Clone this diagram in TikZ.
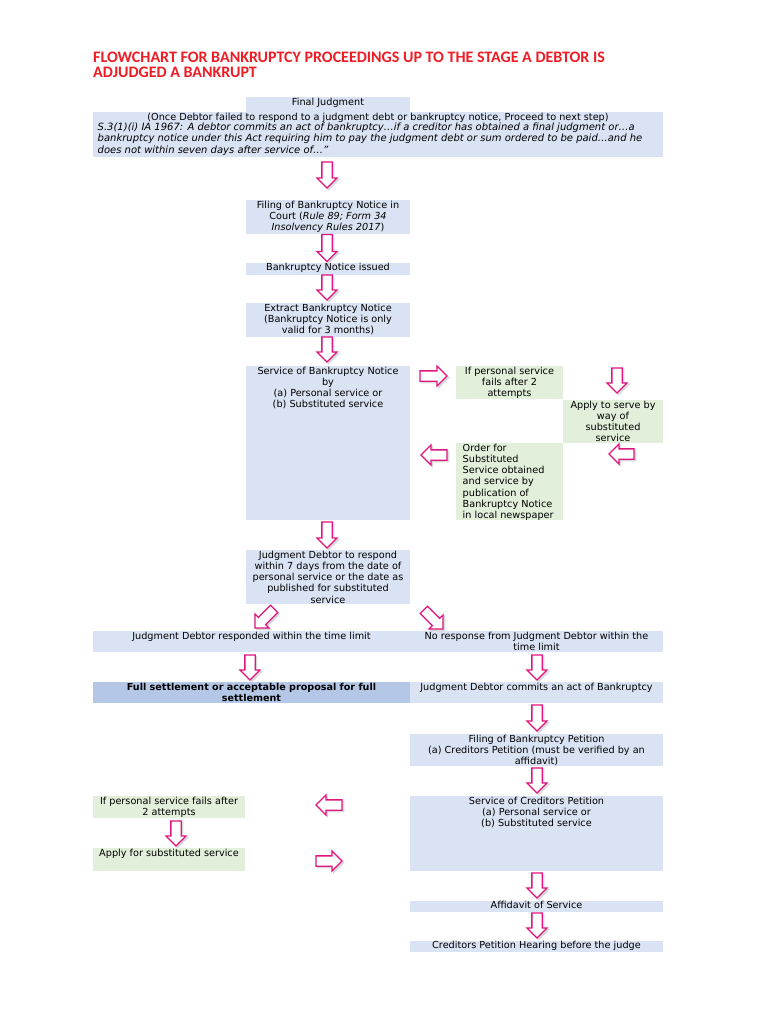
\documentclass[tikz,border=0pt]{standalone}
\usepackage{fontspec}
\setmainfont{DejaVu Sans}
\newfontfamily\titlefont{Carlito}
\usetikzlibrary{shapes.arrows,calc}
\definecolor{boxblue}{HTML}{DAE3F3}
\definecolor{boxgreen}{HTML}{E2EFDA}
\definecolor{boxdark}{HTML}{B4C7E7}
\definecolor{arrowpink}{HTML}{E0157F}
\definecolor{titlered}{HTML}{EE1C25}
\tikzset{
  boxbase/.style={draw=none, anchor=north west, inner sep=0pt, outer sep=0pt},
  txt/.style={font=\fontsize{9.7}{11.3}\selectfont, inner sep=0.5pt, align=center, anchor=north},
  barrow/.style={single arrow, draw=arrowpink, fill=white, line width=1.3pt,
    minimum width=19pt, single arrow head extend=4.8pt, inner xsep=0pt, inner ysep=4.5pt,
    single arrow tip angle=90, anchor=tip, outer sep=0pt},
  barrowsh/.style={barrow, draw=gray!30, fill=gray!30},
}
% box: name, x, y, w, h, fill
\newcommand\bx[6]{\node[boxbase, fill=#6, minimum width=#4pt, minimum height=#5pt] (#1) at (#2,#3) {};}
% arrow: [length] name, tip point, angle
\newcommand\barr[4][25]{%
  \node[barrowsh, minimum height=#1pt, rotate=#4] (#2-sh) at ($(#3)+(1.6,1.6)$) {};
  \node[barrow, minimum height=#1pt, rotate=#4] (#2) at (#3) {};}
\begin{document}
\begin{tikzpicture}[x=1pt, y=-1pt]
\path[use as bounding box, fill=white] (0,0) rectangle (768,1024);

% title
\node[anchor=base west, inner sep=0pt, text=titlered, font=\titlefont\bfseries\fontsize{16}{18}\selectfont] (title1) at (93,63) {FLOWCHART FOR BANKRUPTCY PROCEEDINGS UP TO THE STAGE A DEBTOR IS};
\node[anchor=base west, inner sep=0pt, text=titlered, font=\titlefont\bfseries\fontsize{16}{18}\selectfont] (title2) at (93,78) {ADJUDGED A BANKRUPT};

% boxes
\bx{fj}{246}{97}{164}{15.5}{boxblue}
\bx{big}{93}{112}{570}{45}{boxblue}
\bx{filing}{246}{200}{164}{34}{boxblue}
\bx{issued}{246}{263}{164}{12}{boxblue}
\bx{extract}{246}{303}{164}{34}{boxblue}
\bx{svc}{246}{366}{164}{154}{boxblue}
\bx{g1}{456}{366}{107}{33}{boxgreen}
\bx{g2}{563}{400}{100}{43}{boxgreen}
\bx{g3}{456}{443}{107}{77}{boxgreen}
\bx{resp}{246}{550}{164}{54}{boxblue}
\bx{yes}{93}{631}{317}{21}{boxblue}
\bx{no}{410}{631}{253}{21}{boxblue}
\bx{full}{93}{682}{317}{21}{boxdark}
\bx{commits}{410}{682}{253}{21}{boxblue}
\bx{petition}{410}{734}{253}{32}{boxblue}
\bx{csvc}{410}{796}{253}{75}{boxblue}
\bx{g4}{93}{796}{152}{22}{boxgreen}
\bx{g5}{93}{848}{152}{23}{boxgreen}
\bx{aff}{410}{901}{253}{11}{boxblue}
\bx{hear}{410}{941}{253}{11}{boxblue}

% texts
\node[txt] (fj-t) at ($(fj.north)+(0,0.5)$) {Final Judgment};
\node[txt] (big-t) at (big.north) {(Once Debtor failed to respond to a judgment debt or bankruptcy notice, Proceed to next step)};
\node[txt, anchor=north west, align=left, font=\fontsize{10}{11.4}\selectfont\itshape] (big-i) at ($(big-t.south -| big.west)+(4,-0.5)$)
  {S.3(1)(i) IA 1967: A debtor commits an act of bankruptcy…if a creditor has obtained a final judgment or…a\\
   bankruptcy notice under this Act requiring him to pay the judgment debt or sum ordered to be paid…and he\\
   does not within seven days after service of…”};
\node[txt] (filing-t) at (filing.north) {Filing of Bankruptcy Notice in\\Court (\textit{Rule 89; Form 34}\\\textit{Insolvency Rules 2017})};
\node[txt] (issued-t) at ($(issued.north)+(0,-1)$) {Bankruptcy Notice issued};
\node[txt] (extract-t) at (extract.north) {Extract Bankruptcy Notice\\(Bankruptcy Notice is only\\valid for 3 months)};
\node[txt] (svc-t) at (svc.north) {Service of Bankruptcy Notice\\by\\(a) Personal service or\\(b) Substituted service};
\node[txt] (g1-t) at (g1.north) {If personal service\\fails after 2\\attempts};
\node[txt] (g2-t) at (g2.north) {Apply to serve by\\way of\\substituted\\service};
\node[txt, anchor=north west, align=left] (g3-t) at ($(g3.north west)+(6,0)$) {Order for\\Substituted\\Service obtained\\and service by\\publication of\\Bankruptcy Notice\\in local newspaper};
\node[txt] (resp-t) at (resp.north) {Judgment Debtor to respond\\within 7 days from the date of\\personal service or the date as\\published for substituted\\service};
\node[txt] (yes-t) at (yes.north) {Judgment Debtor responded within the time limit};
\node[txt] (no-t) at (no.north) {No response from Judgment Debtor within the\\time limit};
\node[txt, font=\fontsize{9.6}{11.3}\selectfont\bfseries] (full-t) at (full.north) {Full settlement or acceptable proposal for full\\settlement};
\node[txt] (commits-t) at (commits.north) {Judgment Debtor commits an act of Bankruptcy};
\node[txt] (petition-t) at (petition.north) {Filing of Bankruptcy Petition\\(a) Creditors Petition (must be verified by an\\affidavit)};
\node[txt] (csvc-t) at (csvc.north) {Service of Creditors Petition\\(a) Personal service or\\(b) Substituted service};
\node[txt] (g4-t) at (g4.north) {If personal service fails after\\2 attempts};
\node[txt] (g5-t) at (g5.north) {Apply for substituted service};
\node[txt] (aff-t) at ($(aff.north)+(0,-1)$) {Affidavit of Service};
\node[txt] (hear-t) at ($(hear.north)+(0,-1)$) {Creditors Petition Hearing before the judge};

% block arrows (placed by their tips)
\barr[26]{a1}{327,188}{-90}
\barr[27]{a2}{327,261.5}{-90}
\barr{a3}{327,300}{-90}
\barr{a4}{327,362}{-90}
\barr[27]{a5}{447,376}{0}
\barr{a6}{617,393}{-90}
\barr[25]{a7}{609,454}{180}
\barr[26]{a8}{421,455}{180}
\barr[26]{a9}{327,548}{-90}
\barr[27]{a10}{255,628}{-135}
\barr[27]{a11}{443,629}{-45}
\barr{a12}{250,680}{-90}
\barr{a13}{537,680}{-90}
\barr[26]{a14}{537,731}{-90}
\barr{a15}{537,793}{-90}
\barr[26]{a16}{316,805}{180}
\barr{a17}{176,846}{-90}
\barr[26]{a18}{342,861}{0}
\barr{a19}{537,898}{-90}
\barr{a20}{537,938}{-90}
\end{tikzpicture}
\end{document}
